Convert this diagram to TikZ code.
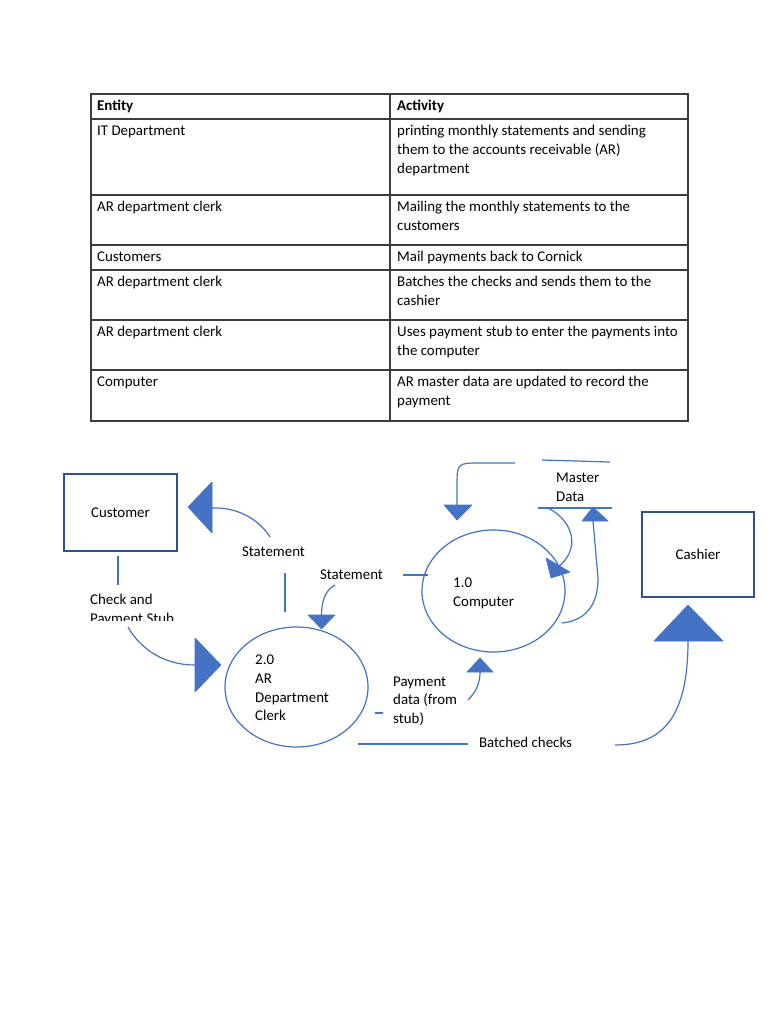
\documentclass[tikz,border=0pt]{standalone}
\usepackage{fontspec}
\setmainfont{Carlito}
\usetikzlibrary{positioning, shapes}

\definecolor{dfdblue}{HTML}{4472C4}
\definecolor{dfdframe}{HTML}{2F528F}
\definecolor{rulegray}{HTML}{3C3C3C}

\tikzset{
  txt/.style={inner sep=0pt, align=left, font=\fontsize{14.9}{18.7}\selectfont},
  cell/.style={txt, anchor=base west},
  headcell/.style={cell, font=\fontsize{14.9}{18.7}\selectfont\bfseries},
  rule/.style={rulegray, line width=1.1pt},
  entity/.style={txt, align=center, draw=dfdframe, line width=1.8pt, minimum width=113pt, minimum height=77pt},
  process/.style={ellipse, draw=dfdblue, line width=1.2pt, inner sep=0pt},
  flow/.style={draw=dfdblue, line width=1.2pt},
  head/.style={fill=dfdblue, draw=dfdblue, line width=0.6pt, line join=round},
}

\begin{document}
\begin{tikzpicture}[x=1pt, y=-1pt]
\fill[white] (0,0) rectangle (768,1024);
\useasboundingbox (0,0) rectangle (768,1024);

% the table frame and its rules
\draw[rule] (91,94) rectangle (688,421);
\foreach \y in {119,195,245,270,320,370}
  \draw[rule] (91,\y) -- (688,\y);
\draw[rule] (390,94) -- (390,421);

% the table cells (placed at the baseline of their last line)
\node[headcell] (enthead) at (97,110.5) {Entity};
\node[headcell] (acthead) at (397,110.5) {Activity};
\node[cell] (ent1) at (97,136) {IT Department};
\node[cell] (act1) at (397,173.4) {printing monthly statements and sending\\them to the accounts receivable (AR)\\department};
\node[cell] (ent2) at (97,211.5) {AR department clerk};
\node[cell] (act2) at (397,230.2) {Mailing the monthly statements to the\\customers};
\node[cell] (ent3) at (97,261.5) {Customers};
\node[cell] (act3) at (397,261.5) {Mail payments back to Cornick};
\node[cell] (ent4) at (97,286.5) {AR department clerk};
\node[cell] (act4) at (397,305.2) {Batches the checks and sends them to the\\cashier};
\node[cell] (ent5) at (97,336.5) {AR department clerk};
\node[cell] (act5) at (397,355.2) {Uses payment stub to enter the payments into\\the computer};
\node[cell] (ent6) at (97,386.5) {Computer};
\node[cell] (act6) at (397,405.2) {AR master data are updated to record the\\payment};

% the entities and the processes
\node[entity] (customer) at (120.5,512.5) {Customer};
\node[entity, minimum width=112pt, minimum height=85pt] (cashier) at (698,554.5) {Cashier};
\node[process, minimum width=143pt, minimum height=120pt] (clerk) at (296.5,687) {};
\node[process, minimum width=143pt, minimum height=122pt] (computer) at (493.5,591) {};
\node[cell] (clerktext) at (255,720.7) {2.0\\AR\\Department\\Clerk};
\node[cell] (comptext) at (453,606) {1.0\\Computer};

% the flow labels
\node[txt] (stmtcust) at (273.5,552) {Statement};
\node[txt] (stmtclerk) at (351.5,575) {Statement};
\node[cell] (master) at (556,501) {Master\\Data};
\node[cell] (paydata) at (393,723.5) {Payment\\data (from\\stub)};
\node[txt] (batched) at (525.5,742) {Batched checks};
\begin{scope}
  \clip (85,585) rectangle (200,620);
  \node[cell] (checkstub) at (90,623) {Check and\\Payment Stub};
\end{scope}

% statement, clerk to customer
\coordinate (s1low) at (285,612);
\coordinate (s1up) at (285,573);
\draw[flow] (s1low) -- (s1up);
\coordinate (s1from) at (270,537);
\coordinate (s1to) at (212,508);
\draw[flow] (s1from) .. controls (258,518) and (236,507) .. (s1to);
\fill[head] (188,507) -- (212,482) -- (212,533) -- cycle;

% check and payment stub, customer to clerk
\coordinate (cpup) at (118,556);
\coordinate (cplow) at (118,585);
\draw[flow] (cpup) -- (cplow);
\coordinate (cpfrom) at (128,627);
\coordinate (cpto) at (195,665);
\draw[flow] (cpfrom) .. controls (141,650) and (165,665) .. (cpto);
\fill[head] (195,638) -- (195,692) -- (221,665) -- cycle;

% statement, computer to clerk
\coordinate (s2a) at (403,575);
\coordinate (s2b) at (428,575);
\draw[flow] (s2a) -- (s2b);
\coordinate (s2from) at (335,585);
\coordinate (s2to) at (321.5,615);
\draw[flow] (s2from) .. controls (325,590) and (321.5,602) .. (s2to);
\fill[head] (308,615) -- (335,615) -- (321.5,629) -- cycle;

% payment data, clerk to computer
\coordinate (pda) at (375,713);
\coordinate (pdb) at (383,713);
\draw[flow] (pda) -- (pdb);
\coordinate (pdfrom) at (468,700);
\coordinate (pdto) at (480,672);
\draw[flow] (pdfrom) .. controls (477,691) and (480,682) .. (pdto);
\fill[head] (467,672) -- (493,672) -- (480,658) -- cycle;

% batched checks, clerk to cashier
\coordinate (bca) at (358,744);
\coordinate (bcb) at (468,744);
\draw[flow] (bca) -- (bcb);
\coordinate (bcfrom) at (615,745);
\coordinate (bcto) at (688,641);
\draw[flow] (bcfrom) .. controls (662,745) and (688,718) .. (bcto);
\fill[head] (654,641) -- (723,641) -- (688,605) -- cycle;

% loop over the computer
\coordinate (lpfrom) at (515,463);
\coordinate (lpto) at (457,505);
\draw[flow] (lpfrom) -- (480,463) .. controls (457,463) .. (457,488) -- (lpto);
\fill[head] (444,505) -- (472,505) -- (457,520) -- cycle;

% the master data store
\draw[flow] (542,460) -- (610,462);
\draw[flow] (538,508) -- (612,508);
\coordinate (mdfrom) at (548,508);
\coordinate (mdto) at (558,567);
\draw[flow] (mdfrom) .. controls (575,522) and (580,550) .. (mdto);
\fill[head] (546,558) -- (551,578) -- (570,572) -- cycle;

% computer to master data
\coordinate (cmfrom) at (562,623);
\coordinate (cmto) at (593,521);
\draw[flow] (cmfrom) .. controls (590,620) and (598,600) .. (598,578) -- (cmto);
\fill[head] (582,521) -- (608,521) -- (593,507) -- cycle;
\end{tikzpicture}
\end{document}
